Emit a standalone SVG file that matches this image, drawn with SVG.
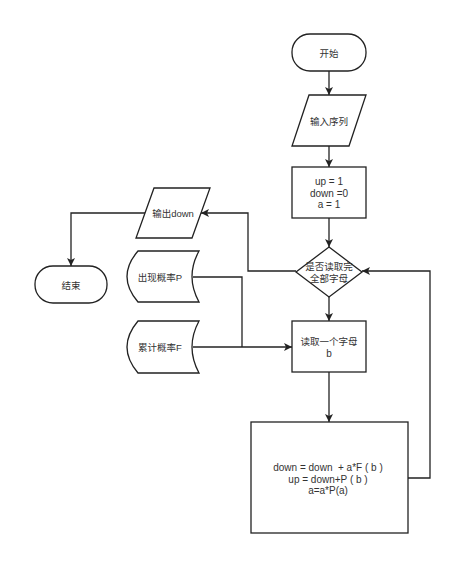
<svg xmlns="http://www.w3.org/2000/svg" width="474" height="578" viewBox="0 0 474 578">
<defs>
<marker id="ah" viewBox="0 0 10 10" refX="10" refY="5" markerWidth="8.5" markerHeight="8" markerUnits="userSpaceOnUse" orient="auto">
<path d="M0,0 L10,5 L0,10 L2.5,5 Z" fill="#222"/>
</marker>
<style>
.s{fill:#fff;stroke:#222;stroke-width:1.3}
.c{fill:none;stroke:#222;stroke-width:1.3}
.t{font-family:"Liberation Sans","Noto Sans CJK SC",sans-serif;font-size:9.5px;fill:#333;text-anchor:middle;dominant-baseline:central}
.l{font-size:10px;white-space:pre}
</style>
</defs>
<rect width="474" height="578" fill="#fff"/>
<g id="connectors">
<path class="c" d="M329,71 V95" marker-end="url(#ah)"/>
<path class="c" d="M329,146 V167" marker-end="url(#ah)"/>
<path class="c" d="M329,218 V247" marker-end="url(#ah)"/>
<path class="c" d="M329,297 V321" marker-end="url(#ah)"/>
<path class="c" d="M329,372 V422" marker-end="url(#ah)"/>
<path class="c" d="M408,478 H430 V271 H362" marker-end="url(#ah)"/>
<path class="c" d="M296,271 H248 V213 H201" marker-end="url(#ah)"/>
<path class="c" d="M145,213 H71 V266" marker-end="url(#ah)"/>
<path class="c" d="M193,277 H242 V347"/>
<path class="c" d="M193,347 H292" marker-end="url(#ah)"/>
</g>
<g id="start">
<rect class="s" x="292" y="34" width="74" height="37" rx="18" ry="18"/>
<text class="t" x="329" y="53">开始</text>
</g>
<g id="input">
<path class="s" d="M309,95 H366 L349,146 H292 Z"/>
<text class="t" x="329" y="121">输入序列</text>
</g>
<g id="init">
<rect class="s" x="292" y="167" width="74" height="51"/>
<text class="t l" x="329" y="181.5">up = 1</text>
<text class="t l" x="329" y="193">down =0</text>
<text class="t l" x="329" y="204.5">a = 1</text>
</g>
<g id="decision">
<path class="s" d="M329,247 L362,272 L329,297 L296,272 Z"/>
<text class="t" x="329" y="266">是否读取完</text>
<text class="t" x="329" y="278">全部字母</text>
</g>
<g id="output">
<path class="s" d="M154,188 H210 L192,238 H136 Z"/>
<text class="t" x="173" y="213">输出down</text>
</g>
<g id="end">
<rect class="s" x="35" y="266" width="72" height="37" rx="18" ry="18"/>
<text class="t" x="71" y="285">结束</text>
</g>
<g id="probP">
<path class="s" d="M138,251 H199 Q185,276.5 199,302 H138 Q116,276.5 138,251 Z"/>
<text class="t" x="160" y="277">出现概率P</text>
</g>
<g id="probF">
<path class="s" d="M138,321 H199 Q185,347 199,373 H138 Q116,347 138,321 Z"/>
<text class="t" x="160" y="347">累计概率F</text>
</g>
<g id="read">
<rect class="s" x="292" y="321" width="74" height="51"/>
<text class="t" x="329" y="341.5">读取一个字母</text>
<text class="t l" x="329" y="353">b</text>
</g>
<g id="update">
<rect class="s" x="251" y="422" width="157" height="111"/>
<text class="t l" x="328" y="467">down = down  + a*F ( b )</text>
<text class="t l" x="328" y="479">up = down+P ( b )</text>
<text class="t l" x="328" y="490.5">a=a*P(a)</text>
</g>
</svg>
